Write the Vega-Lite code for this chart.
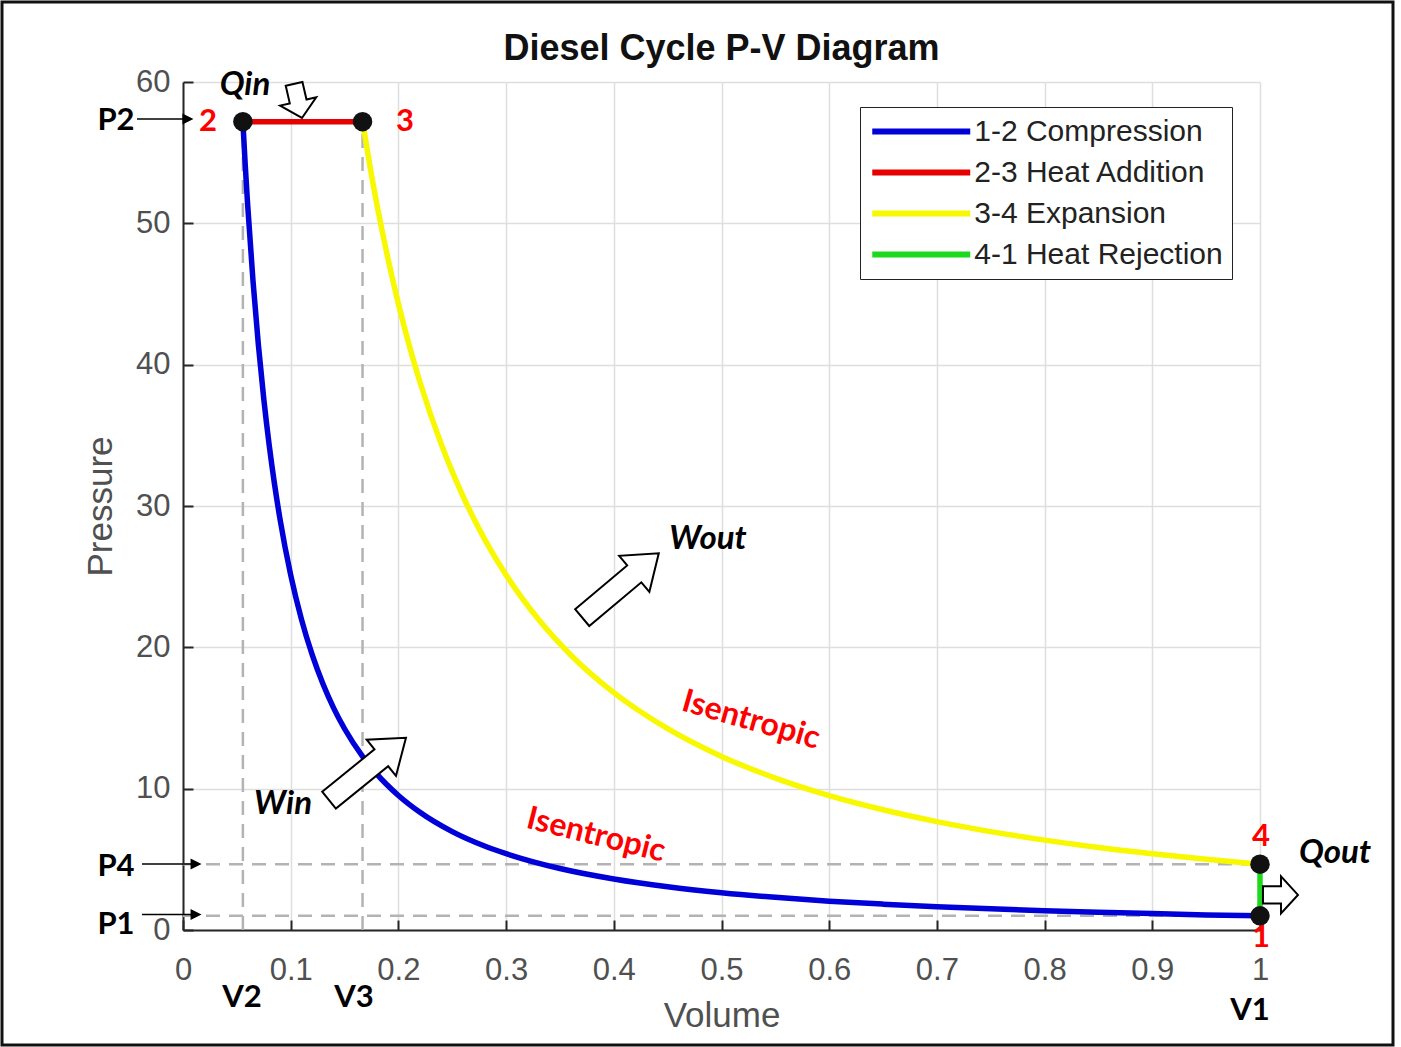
{
  "$schema": "https://vega.github.io/schema/vega-lite/v6.json",
  "width": 1077,
  "height": 848,
  "autosize": {"type": "none"},
  "padding": {"left": 183, "top": 82, "right": 141, "bottom": 117},
  "background": "white",
  "title": {"text": "Diesel Cycle P-V Diagram", "font": "Liberation Sans", "fontSize": 36, "fontWeight": "bold", "color": "#111111", "anchor": "middle", "frame": "group", "baseline": "alphabetic", "offset": -95},
  "config": {
    "view": {"stroke": null},
    "axis": {
      "grid": true, "gridColor": "#dedede", "gridWidth": 1.5,
      "domainColor": "#262626", "domainWidth": 2,
      "tickColor": "#262626", "tickWidth": 2, "tickSize": -10,
      "labelFont": "Liberation Sans", "labelFontSize": 31, "labelColor": "#505050", "labelFlush": false,
      "titleFont": "Liberation Sans", "titleFontSize": 35, "titleFontWeight": "normal", "titleColor": "#505050"
    }
  },
  "encoding": {
    "x": {"field": "V", "type": "quantitative", "scale": {"domain": [0, 1], "nice": false, "zero": false},
      "axis": {"title": "Volume", "values": [0, 0.1, 0.2, 0.3, 0.4, 0.5, 0.6, 0.7, 0.8, 0.9, 1], "format": "~g", "labelPadding": 35, "titleX": 538.5, "titleY": 85, "titleBaseline": "middle"}},
    "y": {"field": "P", "type": "quantitative", "scale": {"domain": [0, 60], "nice": false},
      "axis": {"title": "Pressure", "values": [0, 10, 20, 30, 40, 50, 60], "labelPadding": 23, "titleX": -83, "titleY": 424, "titleBaseline": "middle", "titleAlign": "center", "titleAngle": -90}}
  },
  "layer": [
    {
      "data": {"values": [{"V": -0.16806, "Vend": 1.12349, "P": 65.66, "Pend": -8.137}]},
      "mark": {"type": "rect", "fill": null, "fillOpacity": 0, "stroke": "#111111", "strokeWidth": 3, "clip": false},
      "encoding": {"x2": {"field": "Vend"}, "y2": {"field": "Pend"}}
    },
    {
      "data": {"values": [
        {"V": 0.0556, "P": 0, "Pend": 57.19},
        {"V": 0.1667, "P": 0, "Pend": 57.19}
      ]},
      "mark": {"type": "rule", "color": "#b3b3b3", "strokeWidth": 2.5, "strokeDash": [14, 9]},
      "encoding": {"y2": {"field": "Pend"}}
    },
    {
      "data": {"values": [
        {"V": 0, "Vend": 1, "P": 4.655},
        {"V": 0, "Vend": 1, "P": 1.0}
      ]},
      "mark": {"type": "rule", "color": "#b3b3b3", "strokeWidth": 2.5, "strokeDash": [14, 9]},
      "encoding": {"x2": {"field": "Vend"}}
    },
    {
      "data": {"values": [
        {"process": "1-2 Compression", "ord": 0, "V": 0.0556, "P": 57.19},
        {"process": "1-2 Compression", "ord": 1, "V": 0.0578, "P": 54.1},
        {"process": "1-2 Compression", "ord": 2, "V": 0.06, "P": 51.35},
        {"process": "1-2 Compression", "ord": 3, "V": 0.065, "P": 45.92},
        {"process": "1-2 Compression", "ord": 4, "V": 0.07, "P": 41.39},
        {"process": "1-2 Compression", "ord": 5, "V": 0.075, "P": 37.58},
        {"process": "1-2 Compression", "ord": 6, "V": 0.08, "P": 34.33},
        {"process": "1-2 Compression", "ord": 7, "V": 0.085, "P": 31.54},
        {"process": "1-2 Compression", "ord": 8, "V": 0.09, "P": 29.11},
        {"process": "1-2 Compression", "ord": 9, "V": 0.1, "P": 25.12},
        {"process": "1-2 Compression", "ord": 10, "V": 0.11, "P": 21.98},
        {"process": "1-2 Compression", "ord": 11, "V": 0.12, "P": 19.46},
        {"process": "1-2 Compression", "ord": 12, "V": 0.13, "P": 17.4},
        {"process": "1-2 Compression", "ord": 13, "V": 0.14, "P": 15.68},
        {"process": "1-2 Compression", "ord": 14, "V": 0.15, "P": 14.24},
        {"process": "1-2 Compression", "ord": 15, "V": 0.1667, "P": 12.29},
        {"process": "1-2 Compression", "ord": 16, "V": 0.18, "P": 11.03},
        {"process": "1-2 Compression", "ord": 17, "V": 0.2, "P": 9.52},
        {"process": "1-2 Compression", "ord": 18, "V": 0.22, "P": 8.33},
        {"process": "1-2 Compression", "ord": 19, "V": 0.25, "P": 6.96},
        {"process": "1-2 Compression", "ord": 20, "V": 0.28, "P": 5.94},
        {"process": "1-2 Compression", "ord": 21, "V": 0.3, "P": 5.4},
        {"process": "1-2 Compression", "ord": 22, "V": 0.35, "P": 4.35},
        {"process": "1-2 Compression", "ord": 23, "V": 0.4, "P": 3.61},
        {"process": "1-2 Compression", "ord": 24, "V": 0.45, "P": 3.06},
        {"process": "1-2 Compression", "ord": 25, "V": 0.5, "P": 2.64},
        {"process": "1-2 Compression", "ord": 26, "V": 0.55, "P": 2.31},
        {"process": "1-2 Compression", "ord": 27, "V": 0.6, "P": 2.04},
        {"process": "1-2 Compression", "ord": 28, "V": 0.65, "P": 1.83},
        {"process": "1-2 Compression", "ord": 29, "V": 0.7, "P": 1.65},
        {"process": "1-2 Compression", "ord": 30, "V": 0.75, "P": 1.5},
        {"process": "1-2 Compression", "ord": 31, "V": 0.8, "P": 1.37},
        {"process": "1-2 Compression", "ord": 32, "V": 0.85, "P": 1.26},
        {"process": "1-2 Compression", "ord": 33, "V": 0.9, "P": 1.16},
        {"process": "1-2 Compression", "ord": 34, "V": 0.95, "P": 1.07},
        {"process": "1-2 Compression", "ord": 35, "V": 1.0, "P": 1.0},
        {"process": "2-3 Heat Addition", "ord": 0, "V": 0.0556, "P": 57.19},
        {"process": "2-3 Heat Addition", "ord": 1, "V": 0.1667, "P": 57.19},
        {"process": "3-4 Expansion", "ord": 0, "V": 0.1667, "P": 57.19},
        {"process": "3-4 Expansion", "ord": 1, "V": 0.175, "P": 53.42},
        {"process": "3-4 Expansion", "ord": 2, "V": 0.18, "P": 51.35},
        {"process": "3-4 Expansion", "ord": 3, "V": 0.19, "P": 47.61},
        {"process": "3-4 Expansion", "ord": 4, "V": 0.2, "P": 44.31},
        {"process": "3-4 Expansion", "ord": 5, "V": 0.21, "P": 41.38},
        {"process": "3-4 Expansion", "ord": 6, "V": 0.22, "P": 38.77},
        {"process": "3-4 Expansion", "ord": 7, "V": 0.24, "P": 34.33},
        {"process": "3-4 Expansion", "ord": 8, "V": 0.26, "P": 30.69},
        {"process": "3-4 Expansion", "ord": 9, "V": 0.28, "P": 27.66},
        {"process": "3-4 Expansion", "ord": 10, "V": 0.3, "P": 25.11},
        {"process": "3-4 Expansion", "ord": 11, "V": 0.33, "P": 21.98},
        {"process": "3-4 Expansion", "ord": 12, "V": 0.36, "P": 19.46},
        {"process": "3-4 Expansion", "ord": 13, "V": 0.4, "P": 16.79},
        {"process": "3-4 Expansion", "ord": 14, "V": 0.45, "P": 14.24},
        {"process": "3-4 Expansion", "ord": 15, "V": 0.5, "P": 12.28},
        {"process": "3-4 Expansion", "ord": 16, "V": 0.55, "P": 10.75},
        {"process": "3-4 Expansion", "ord": 17, "V": 0.6, "P": 9.51},
        {"process": "3-4 Expansion", "ord": 18, "V": 0.65, "P": 8.51},
        {"process": "3-4 Expansion", "ord": 19, "V": 0.7, "P": 7.67},
        {"process": "3-4 Expansion", "ord": 20, "V": 0.75, "P": 6.96},
        {"process": "3-4 Expansion", "ord": 21, "V": 0.8, "P": 6.36},
        {"process": "3-4 Expansion", "ord": 22, "V": 0.85, "P": 5.84},
        {"process": "3-4 Expansion", "ord": 23, "V": 0.9, "P": 5.4},
        {"process": "3-4 Expansion", "ord": 24, "V": 0.95, "P": 5.0},
        {"process": "3-4 Expansion", "ord": 25, "V": 1.0, "P": 4.655},
        {"process": "4-1 Heat Rejection", "ord": 0, "V": 1.0, "P": 4.655},
        {"process": "4-1 Heat Rejection", "ord": 1, "V": 1.0, "P": 1.0}
      ]},
      "mark": {"type": "line", "strokeWidth": 5.5, "interpolate": "monotone"},
      "encoding": {
        "color": {"field": "process", "type": "nominal",
          "scale": {"domain": ["1-2 Compression", "2-3 Heat Addition", "3-4 Expansion", "4-1 Heat Rejection"], "range": ["#0000d8", "#e60000", "#f8f800", "#1ed81e"]},
          "legend": {"title": null, "orient": "none", "legendX": 677, "legendY": 25, "symbolType": "M-4,0L4,0", "symbolSize": 600, "symbolStrokeWidth": 6, "symbolOffset": 36.75,
            "labelFont": "Liberation Sans", "labelFontSize": 30, "labelColor": "#222222", "labelOffset": 37.5, "labelLimit": 0, "rowPadding": 10,
            "padding": 9, "strokeColor": "#222222", "fillColor": "white", "cornerRadius": 0}},
        "order": {"field": "ord", "type": "quantitative"}
      }
    },
    {
      "data": {"values": [
        {"V": 1.0, "P": 1.0},
        {"V": 0.0556, "P": 57.19},
        {"V": 0.1667, "P": 57.19},
        {"V": 1.0, "P": 4.655}
      ]},
      "mark": {"type": "point", "filled": true, "color": "#111111", "size": 380, "opacity": 1}
    },
    {
      "data": {"values": [{"V": 0.4062, "P": 24.38}]},
      "mark": {"type": "point", "shape": "M-1,-0.22L0.36,-0.22L0.36,-0.47L1,0L0.36,0.47L0.36,0.22L-1,0.22Z", "size": 10000, "angle": -40, "filled": true, "fill": "white", "stroke": "black", "strokeWidth": 2, "opacity": 1}
    },
    {
      "data": {"values": [{"V": 0.1713, "P": 11.39}]},
      "mark": {"type": "point", "shape": "M-1,-0.22L0.36,-0.22L0.36,-0.47L1,0L0.36,0.47L0.36,0.22L-1,0.22Z", "size": 9800, "angle": -39, "filled": true, "fill": "white", "stroke": "black", "strokeWidth": 2, "opacity": 1}
    },
    {
      "data": {"values": [{"V": 0.1068, "P": 58.66}]},
      "mark": {"type": "point", "shape": "M-1,-0.49L0.03,-0.49L0.03,-1.06L1,0L0.03,1.06L0.03,0.49L-1,0.49Z", "size": 1225, "angle": 77, "filled": true, "fill": "white", "stroke": "black", "strokeWidth": 2, "opacity": 1, "clip": false}
    },
    {
      "data": {"values": [{"V": 1.019, "P": 2.48}]},
      "mark": {"type": "point", "shape": "M-1,-0.49L0.03,-0.49L0.03,-1.06L1,0L0.03,1.06L0.03,0.49L-1,0.49Z", "size": 1225, "angle": 0, "filled": true, "fill": "white", "stroke": "black", "strokeWidth": 2, "opacity": 1, "clip": false}
    },
    {
      "data": {"values": [
        {"V": -0.0427, "Vend": 0.005, "P": 57.38},
        {"V": -0.0381, "Vend": 0.012, "P": 4.67},
        {"V": -0.0381, "Vend": 0.012, "P": 1.1}
      ]},
      "mark": {"type": "rule", "color": "black", "strokeWidth": 1.5, "clip": false},
      "encoding": {"x2": {"field": "Vend"}}
    },
    {
      "data": {"values": [
        {"V": 0.0046, "P": 57.38},
        {"V": 0.0121, "P": 4.67},
        {"V": 0.0121, "P": 1.1}
      ]},
      "mark": {"type": "point", "shape": "M-1,-1L1,0L-1,1Z", "size": 121, "filled": true, "color": "black", "opacity": 1, "clip": false}
    },
    {
      "data": {"values": [
        {"V": 0.0232, "P": 57.17, "t": "2"},
        {"V": 0.2061, "P": 57.17, "t": "3"},
        {"V": 1.0009, "P": 6.58, "t": "4"},
        {"V": 1.0009, "P": -0.6, "t": "1"}
      ]},
      "mark": {"type": "text", "font": "Lato", "fontWeight": "bold", "fontSize": 31, "color": "#ff0000", "align": "center", "baseline": "middle", "clip": false},
      "encoding": {"text": {"field": "t"}}
    },
    {
      "data": {"values": [
        {"V": 0.0576, "P": 59.79, "t": "Qin"},
        {"V": 0.4875, "P": 27.63, "t": "Wout"},
        {"V": 0.0929, "P": 8.92, "t": "Win"},
        {"V": 1.0696, "P": 5.45, "t": "Qout"}
      ]},
      "mark": {"type": "text", "font": "Lato", "fontWeight": "bold", "fontStyle": "italic", "fontSize": 33, "color": "#000000", "align": "center", "baseline": "middle", "clip": false},
      "encoding": {"text": {"field": "t"}}
    },
    {
      "data": {"values": [
        {"V": -0.0622, "P": 57.24, "t": "P2"},
        {"V": -0.0622, "P": 4.46, "t": "P4"},
        {"V": -0.0622, "P": 0.35, "t": "P1"},
        {"V": 0.0548, "P": -4.78, "t": "V2"},
        {"V": 0.1588, "P": -4.78, "t": "V3"},
        {"V": 0.9907, "P": -5.7, "t": "V1"}
      ]},
      "mark": {"type": "text", "font": "Lato", "fontWeight": "bold", "fontSize": 31, "color": "#000000", "align": "center", "baseline": "middle", "clip": false},
      "encoding": {"text": {"field": "t"}}
    },
    {
      "data": {"values": [{"V": 0.3835, "P": 6.72, "t": "Isentropic"}]},
      "mark": {"type": "text", "font": "Lato", "fontWeight": "bold", "fontSize": 32, "color": "#ff0000", "align": "center", "baseline": "middle", "angle": 14},
      "encoding": {"text": {"field": "t"}}
    },
    {
      "data": {"values": [{"V": 0.5274, "P": 14.86, "t": "Isentropic"}]},
      "mark": {"type": "text", "font": "Lato", "fontWeight": "bold", "fontSize": 32, "color": "#ff0000", "align": "center", "baseline": "middle", "angle": 16},
      "encoding": {"text": {"field": "t"}}
    }
  ]
}
